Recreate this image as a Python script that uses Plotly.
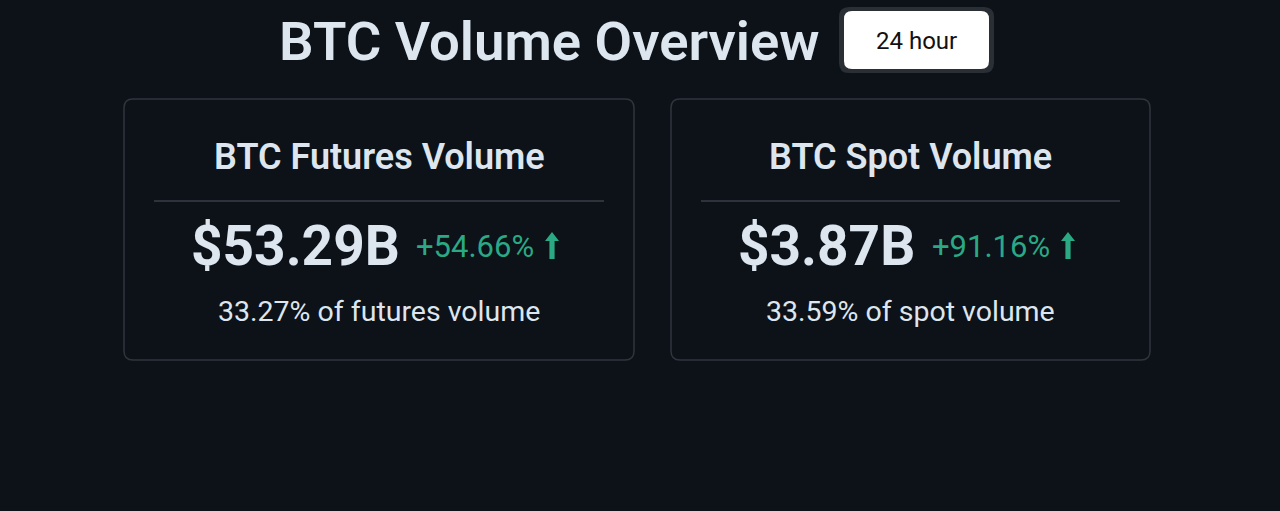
import plotly.graph_objects as go

# dashboard values
card_titles = ["BTC Futures Volume", "BTC Spot Volume"]
card_values = ["$53.29B", "$3.87B"]
card_changes = ["+54.66%", "+91.16%"]
card_shares = ["33.27% of futures volume", "33.59% of spot volume"]
period_label = "24 hour"

BG = "#0d1118"
TEXT = "#dde6ef"
GREEN = "#2aa984"
BORDER = "#30353d"
FONT = "Roboto"

W, H = 1280, 511


def rounded_rect(x0, y0, x1, y1, r):
    return (f"M {x0+r},{y0} L {x1-r},{y0} Q {x1},{y0} {x1},{y0+r} "
            f"L {x1},{y1-r} Q {x1},{y1} {x1-r},{y1} L {x0+r},{y1} "
            f"Q {x0},{y1} {x0},{y1-r} L {x0},{y0+r} Q {x0},{y0} {x0+r},{y0} Z")


def up_arrow(x, top, bottom, half=7, stem=2.6):
    head = top + half * 1.3
    return (f"M {x},{top} L {x+half},{head} L {x+stem},{head} L {x+stem},{bottom} "
            f"L {x-stem},{bottom} L {x-stem},{head} L {x-half},{head} Z")


fig = go.Figure()
shapes = []
annotations = []

# title + period button
annotations.append(dict(x=549, y=41, text="BTC Volume Overview", showarrow=False,
                        font=dict(family=FONT, size=54.5, color=TEXT, weight=600),
                        xanchor="center", yanchor="middle"))
shapes.append(dict(type="path", path=rounded_rect(839, 7, 994, 73, 10),
                   fillcolor="#2a2f36", line=dict(width=0), layer="below"))
shapes.append(dict(type="path", path=rounded_rect(844, 11, 989, 69, 8),
                   fillcolor="#ffffff", line=dict(width=0), layer="below"))
annotations.append(dict(x=916, y=41, text=period_label, showarrow=False,
                        font=dict(family=FONT, size=24, color="#111111"),
                        xanchor="center", yanchor="middle"))

# cards
cards = [
    dict(x0=124, x1=634, val_x=189, chg_x=414, arr_x=552),
    dict(x0=671, x1=1150, val_x=736, chg_x=930, arr_x=1068),
]
for i, c in enumerate(cards):
    cx = (c["x0"] + c["x1"]) / 2
    shapes.append(dict(type="path", path=rounded_rect(c["x0"], 99, c["x1"], 360, 9),
                       fillcolor=BG, line=dict(color=BORDER, width=1.5), layer="below"))
    shapes.append(dict(type="line", x0=c["x0"] + 30, x1=c["x1"] - 30, y0=201, y1=201,
                       line=dict(color="#3a3f47", width=1.5)))
    annotations.append(dict(x=cx, y=157, text=card_titles[i], showarrow=False,
                            font=dict(family=FONT, size=36, color=TEXT, weight=600),
                            xanchor="center", yanchor="middle"))
    annotations.append(dict(x=c["val_x"], y=246, text=card_values[i], showarrow=False,
                            font=dict(family=FONT, size=55, color=TEXT, weight=700),
                            xanchor="left", yanchor="middle"))
    annotations.append(dict(x=c["chg_x"], y=246, text=card_changes[i], showarrow=False,
                            font=dict(family=FONT, size=31, color=GREEN),
                            xanchor="left", yanchor="middle"))
    shapes.append(dict(type="path", path=up_arrow(c["arr_x"], 232, 259),
                       fillcolor=GREEN, line=dict(width=0)))
    annotations.append(dict(x=cx, y=311, text=card_shares[i], showarrow=False,
                            font=dict(family=FONT, size=28.5, color=TEXT),
                            xanchor="center", yanchor="middle"))

fig.update_layout(
    width=W, height=H,
    paper_bgcolor=BG, plot_bgcolor=BG,
    margin=dict(l=0, r=0, t=0, b=0),
    xaxis=dict(range=[0, W], visible=False, fixedrange=True),
    yaxis=dict(range=[H, 0], visible=False, fixedrange=True),
    shapes=shapes,
    annotations=annotations,
    showlegend=False,
)

fig.write_html("out.html", config={"displayModeBar": False},
               post_script="document.body.style.margin='0';document.body.style.background='#0d1118';")
